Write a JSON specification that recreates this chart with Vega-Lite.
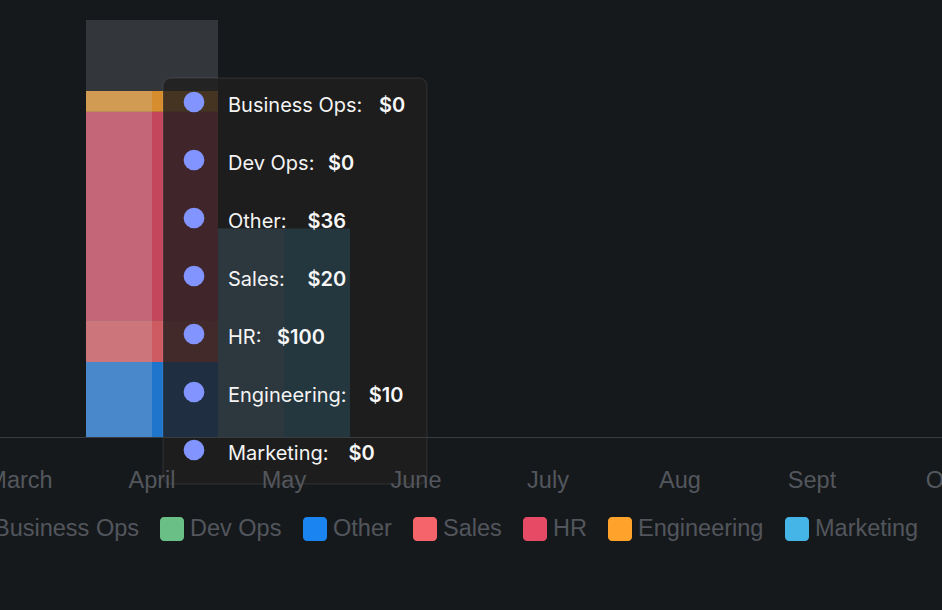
{
  "$schema": "https://vega.github.io/schema/vega-lite/v6.json",
  "width": 942,
  "height": 417,
  "autosize": {"type": "none"},
  "padding": {"top": 20, "bottom": 173, "left": 0, "right": 0},
  "background": "#16191c",
  "config": {
    "view": {"stroke": null},
    "font": "Liberation Sans",
    "axis": {
      "title": null, "grid": false, "ticks": false, "tickSize": 0,
      "domainColor": "#393c40", "domainWidth": 1,
      "labelFont": "Liberation Sans", "labelFontSize": 23.5, "labelColor": "#53575d",
      "labelPadding": 50, "labelBaseline": "alphabetic", "labelAngle": 0
    },
    "legend": {
      "orient": "none", "legendX": -36, "legendY": 497, "direction": "horizontal",
      "title": null, "padding": 0,
      "symbolType": "M-0.67,-1H0.67A0.33,0.33,0,0,1,1,-0.67V0.67A0.33,0.33,0,0,1,0.67,1H-0.67A0.33,0.33,0,0,1,-1,0.67V-0.67A0.33,0.33,0,0,1,-0.67,-1Z",
      "symbolSize": 576, "symbolStrokeWidth": 0, "symbolOpacity": 1,
      "labelFont": "Liberation Sans", "labelFontSize": 23.5, "labelColor": "#52565c",
      "labelOffset": 6, "columnPadding": 21, "labelLimit": 400
    }
  },
  "data": {
    "values": [
      {"month": "April", "dept": "Business Ops", "amount": 0},
      {"month": "April", "dept": "Dev Ops", "amount": 0},
      {"month": "April", "dept": "Other", "amount": 36},
      {"month": "April", "dept": "Sales", "amount": 20},
      {"month": "April", "dept": "HR", "amount": 100},
      {"month": "April", "dept": "Engineering", "amount": 10},
      {"month": "April", "dept": "Marketing", "amount": 0},
      {"month": "May", "dept": "Marketing", "amount": 100}
    ]
  },
  "resolve": {"scale": {"y": "independent", "xOffset": "independent"}},
  "layer": [
    {
      "layer": [
        {
          "transform": [
            {"filter": "datum.month == 'April'"},
            {"aggregate": [{"op": "count", "as": "n"}], "groupby": ["month"]}
          ],
          "mark": {"type": "rect", "color": "#33373c"},
          "encoding": {
            "x": {"field": "month", "type": "nominal"},
            "y": {"datum": 200, "type": "quantitative"},
            "y2": {"datum": 0}
          }
        },
        {
          "transform": [
            {"calculate": "indexof(['Business Ops', 'Dev Ops', 'Other', 'Sales', 'HR', 'Engineering', 'Marketing'], datum.dept)", "as": "rank"}
          ],
          "mark": {"type": "bar", "opacity": 0.8},
          "encoding": {
            "x": {
              "field": "month", "type": "nominal",
              "scale": {
                "domain": ["March", "April", "May", "June", "July", "Aug", "Sept", "Oct"],
                "range": [-46, 1010], "paddingInner": 0, "paddingOuter": 0
              }
            },
            "y": {
              "field": "amount", "type": "quantitative", "stack": "zero",
              "scale": {"domain": [0, 200]}, "axis": null
            },
            "order": {"field": "rank", "type": "quantitative", "sort": "ascending"},
            "color": {
              "field": "dept", "type": "nominal",
              "sort": ["Business Ops", "Dev Ops", "Other", "Sales", "HR", "Engineering", "Marketing"],
              "scale": {
                "domain": ["Business Ops", "Dev Ops", "Other", "Sales", "HR", "Engineering", "Marketing"],
                "range": ["#9b6bd8", "#6abf87", "#1a84f0", "#f5636b", "#e74a65", "#ffa22b", "#45b4e6"]
              }
            }
          }
        },
        {
          "mark": {"type": "bar", "color": "#c8c8c8", "opacity": 0.25, "width": {"band": 0.5}, "xOffset": -33},
          "encoding": {
            "x": {"field": "month", "type": "nominal"},
            "y": {"aggregate": "sum", "field": "amount", "type": "quantitative"}
          }
        }
      ]
    },
    {
      "transform": [{"filter": "datum.month == 'April'"}],
      "layer": [
        {
          "transform": [{"aggregate": [{"op": "count", "as": "n"}], "groupby": ["month"]}],
          "mark": {
            "type": "rect", "color": "#1f1e1e", "fillOpacity": 0.8, "cornerRadius": 8,
            "stroke": "#ffffff", "strokeOpacity": 0.07, "strokeWidth": 1.5,
            "xOffset": 77, "x2Offset": 209, "yOffset": 5, "y2Offset": 5
          },
          "encoding": {
            "x": {"field": "month", "type": "nominal", "bandPosition": 0},
            "x2": {"field": "month", "bandPosition": 1},
            "y": {"datum": "Business Ops", "type": "nominal", "bandPosition": 0},
            "y2": {"datum": "Marketing", "bandPosition": 1}
          }
        },
        {
          "mark": {"type": "point", "filled": true, "size": 430, "color": "#8194ff", "opacity": 1, "xOffset": 42},
          "encoding": {
            "x": {"field": "month", "type": "nominal"},
            "y": {
              "field": "dept", "type": "nominal", "axis": null,
              "scale": {
                "domain": ["Business Ops", "Dev Ops", "Other", "Sales", "HR", "Engineering", "Marketing"],
                "range": [53, 459], "paddingInner": 0, "paddingOuter": 0
              }
            }
          }
        },
        {
          "transform": [{"calculate": "datum.dept + ':'", "as": "label"}],
          "mark": {
            "type": "text", "align": "left", "baseline": "alphabetic", "xOffset": 76, "yOffset": 10,
            "font": "Inter", "fontSize": 20, "color": "#f4f4f4"
          },
          "encoding": {
            "x": {"field": "month", "type": "nominal"},
            "y": {"field": "dept", "type": "nominal"},
            "text": {"field": "label"}
          }
        },
        {
          "transform": [{"calculate": "length(datum.dept) + 1", "as": "chars"}],
          "mark": {
            "type": "text", "align": "left", "baseline": "alphabetic", "yOffset": 10,
            "font": "Inter", "fontSize": 20, "fontWeight": 600, "color": "#f7f7f7"
          },
          "encoding": {
            "x": {"field": "month", "type": "nominal"},
            "xOffset": {"field": "chars", "type": "quantitative", "scale": {"domain": [3, 13], "range": [191, 293]}},
            "y": {"field": "dept", "type": "nominal"},
            "text": {"field": "amount", "type": "quantitative", "format": "$,.0f"}
          }
        }
      ]
    }
  ]
}
